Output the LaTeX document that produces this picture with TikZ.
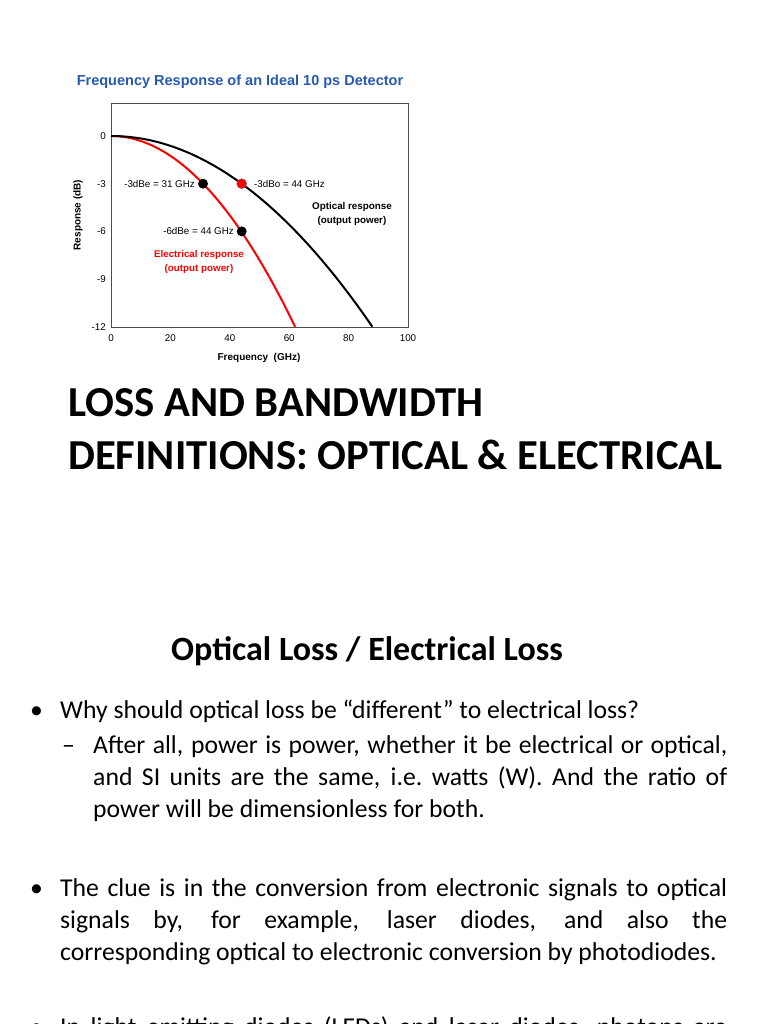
\documentclass[tikz,border=0pt]{standalone}
\usepackage{fontspec}
\setmainfont{Carlito}
\newfontfamily\arialf{Liberation Sans}
\begin{document}
\begin{tikzpicture}[x=1pt,y=-1pt,
  ctxt/.style={font=\arialf\fontsize{9.8}{11}\selectfont,inner sep=1pt},
  body/.style={font=\fontsize{25.7}{28}\selectfont,anchor=base west,inner sep=0pt},
  dotb/.style={circle,fill=black,minimum size=10pt,inner sep=0pt}]
\useasboundingbox (0,0) rectangle (768,1024);
\clip (0,0) rectangle (768,1024);
\node[font=\arialf\bfseries\fontsize{14.5}{16}\selectfont,text={rgb,255:red,40;green,90;blue,175}] (title) at (240,82) {Frequency Response of an Ideal 10 ps Detector};
\draw[line width=0.6pt,black!70] (111,103) rectangle (408,327);
\draw[red,line width=2pt,domain=0:62,samples=60] plot ({111+2.97*\x},{136+47.7*(\x/31)^2});
\draw[black,line width=2pt,domain=0:88,samples=60] plot ({111+2.97*\x},{136+47.7*(\x/44)^2});
\node[dotb] (p1) at (203,183.7) {};
\node[dotb,fill=red,draw=black!60] (p2) at (241.7,183.7) {};
\node[dotb] (p3) at (241.7,231.4) {};
\foreach \v/\l in {0/0,1/-3,2/-6,3/-9,4/-12}{\node[ctxt,anchor=east] at (107,136+47.7*\v) {\l};}
\foreach \v in {0,20,40,60,80,100}{\node[ctxt] at (111+2.97*\v,338) {\v};}
\node[ctxt,font=\arialf\bfseries\fontsize{10}{11}\selectfont,rotate=90] (yl) at (78,215) {Response (dB)};
\node[ctxt,font=\arialf\bfseries\fontsize{10}{11}\selectfont] (xl) at (259,358) {Frequency\ \ (GHz)};
\node[ctxt,anchor=east] (l1) at (196,183.7) {-3dBe = 31 GHz};
\node[ctxt,anchor=west] (l2) at (253,183.7) {-3dBo = 44 GHz};
\node[ctxt,anchor=east] (l3) at (235,231.4) {-6dBe = 44 GHz};
\node[ctxt,font=\arialf\bfseries\fontsize{9.8}{14}\selectfont,align=center] (op) at (352,214) {Optical response\\(output power)};
\node[ctxt,font=\arialf\bfseries\fontsize{9.8}{14}\selectfont,align=center,text=red] (er) at (199,262) {Electrical response\\(output power)};
\node[font=\bfseries\fontsize{42.7}{48}\selectfont,anchor=base west,inner sep=0pt] (h1) at (68,416) {LOSS AND BANDWIDTH};
\node[font=\bfseries\fontsize{42.7}{48}\selectfont,anchor=base west,inner sep=0pt] (h2) at (68,469) {DEFINITIONS: OPTICAL \& ELECTRICAL};
\node[font=\bfseries\fontsize{34}{38}\selectfont,anchor=base,inner sep=0pt] (h3) at (367,660) {Optical Loss / Electrical Loss};
\node[body] (b1) at (30,718) {•};
\node[body] (t1) at (60,718) {Why should optical loss be “different” to electrical loss?};
\node[body] (d1) at (62,753) {–};
\node[body] (t2) at (93,753) {\makebox[634pt][s]{After all, power is power, whether it be electrical or optical,}};
\node[body] (t3) at (93,785) {\makebox[634pt][s]{and SI units are the same, i.e.\ watts (W). And the ratio of}};
\node[body] (t4) at (93,817) {power will be dimensionless for both.};
\node[body] (b2) at (30,896) {•};
\node[body] (t5) at (60,896) {\makebox[667pt][s]{The clue is in the conversion from electronic signals to optical}};
\node[body] (t6) at (60,928) {\makebox[667pt][s]{signals by, for example, laser diodes, and also the}};
\node[body] (t7) at (60,960) {corresponding optical to electronic conversion by photodiodes.};
\node[body] (b3) at (30,1035) {•};
\node[body] (t8) at (60,1035) {\makebox[667pt][s]{In light emitting diodes (LEDs) and laser diodes, photons are}};
\end{tikzpicture}
\end{document}
